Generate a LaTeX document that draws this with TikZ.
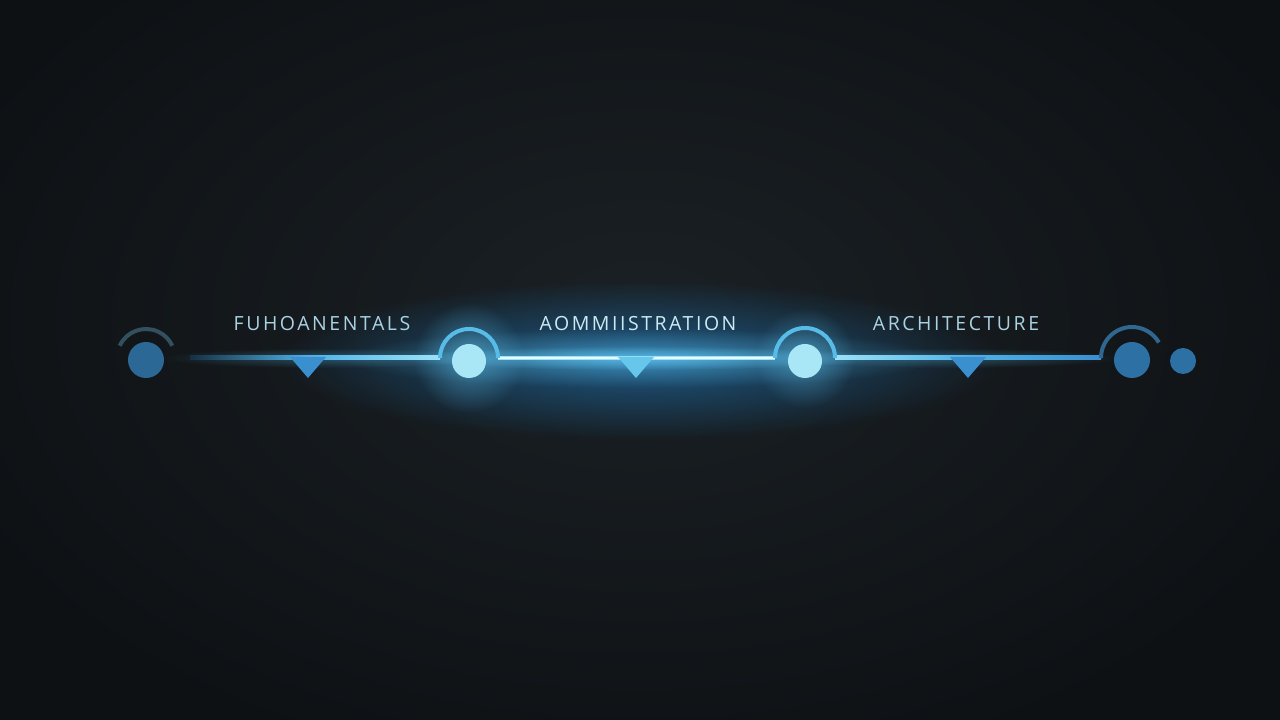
\documentclass[tikz,border=0pt]{standalone}
\usepackage{fontspec}
\setmainfont{Open Sans}
\newfontfamily\labelfont[LetterSpace=13]{Open Sans}
\usetikzlibrary{fadings,calc}
\definecolor{bgdark}{HTML}{0E1114}
\definecolor{bglight}{HTML}{1B2125}
\definecolor{glowblue}{HTML}{1E72B0}
\definecolor{glowcyan}{HTML}{5FC6F2}
\definecolor{linedim}{HTML}{215E8C}
\definecolor{linemid}{HTML}{4FB2E6}
\definecolor{linebright}{HTML}{9BE2F8}
\definecolor{nodedim}{HTML}{2C6896}
\definecolor{nodefour}{HTML}{2D70A4}
\definecolor{nodebright}{HTML}{A9E6F6}
\definecolor{arcdim}{HTML}{33505F}
\definecolor{arcbright}{HTML}{58BCE8}
\definecolor{arcmid}{HTML}{2F6790}
\definecolor{tridim}{HTML}{3A8FCF}
\definecolor{tribright}{HTML}{66C6EC}
\definecolor{labcol}{HTML}{A9D2E2}
\definecolor{labbright}{HTML}{CBEAF3}
\tikzfading[name=softfade, inner color=transparent!0, outer color=transparent!100]
\tikzset{
  dimcircle/.style={circle, fill=nodedim, minimum size=36pt, inner sep=0pt},
  brightcircle/.style={circle, fill=nodebright, minimum size=34pt, inner sep=0pt},
  smalldot/.style={circle, fill=nodefour, minimum size=26pt, inner sep=0pt},
  arcline/.style={line width=4pt},
  lab/.style={font=\labelfont\fontsize{19.5}{22}\selectfont, text=labcol, inner sep=0pt},
}
\begin{document}
\begin{tikzpicture}[x=1pt,y=1pt]
\fill[bgdark] (0,0) rectangle (1280,720);
\useasboundingbox (0,0) rectangle (1280,720);
\fill[bglight, path fading=softfade] (640,400) ellipse [x radius=760, y radius=480];
% glow
\fill[glowblue, opacity=0.7, path fading=softfade] (640,360) ellipse [x radius=360, y radius=80];
\fill[glowcyan, opacity=0.5, path fading=softfade] (640,362) ellipse [x radius=300, y radius=30];
\fill[glowcyan, opacity=0.7, path fading=softfade] (640,362) ellipse [x radius=240, y radius=12];
\fill[glowcyan, opacity=0.5, path fading=softfade] (469,362) circle [radius=55];
\fill[glowcyan, opacity=0.45, path fading=softfade] (805,362) circle [radius=50];
\fill[glowcyan, opacity=0.3, path fading=softfade] (330,362) ellipse [x radius=170, y radius=10];
\fill[glowcyan, opacity=0.3, path fading=softfade] (950,362) ellipse [x radius=170, y radius=10];

% arc end coordinates
\coordinate (s1) at (190,362);
\coordinate (a2w) at (440,362);
\coordinate (a2e) at (498,362);
\coordinate (a3w) at (775,362);
\coordinate (a3e) at (835,362);
\coordinate (a4w) at (1101,362);
\coordinate (t1) at (308,362);
\coordinate (t2) at (636,362);
\coordinate (t3) at (968,362);

% line segments
\shade[left color=linedim!40!bgdark, right color=linemid] ($(s1)+(0,-2)$) rectangle ($(t1)+(0,2)$);
\shade[left color=linemid, right color=linebright] ($(t1)+(0,-2)$) rectangle ($(a2w)+(0,2)$);
\fill[linebright] ($(a2e)+(0,-2.3)$) rectangle ($(a3w)+(0,2.3)$);
\fill[white!80!linebright] ($(a2e)+(0,-0.9)$) rectangle ($(a3w)+(0,0.9)$);
\shade[left color=linebright, right color=linemid] ($(a3e)+(0,-2)$) rectangle ($(t3)+(0,2)$);
\shade[left color=linemid, right color=tridim] ($(t3)+(0,-2)$) rectangle ($(a4w)+(0,2)$);

% triangles
\fill[tridim] ($(t1)+(-18,1)$) -- ($(t1)+(18,1)$) -- ($(t1)+(0,-20)$) -- cycle;
\fill[tribright] ($(t2)+(-18,1)$) -- ($(t2)+(18,1)$) -- ($(t2)+(0,-20)$) -- cycle;
\fill[tridim] ($(t3)+(-18,1)$) -- ($(t3)+(18,1)$) -- ($(t3)+(0,-20)$) -- cycle;

% nodes
\node[dimcircle] (n1) at (146,360) {};
\node[brightcircle] (n2) at (469,359) {};
\node[brightcircle] (n3) at (805,359) {};
\node[dimcircle, fill=nodefour] (n4) at (1132,360) {};
\node[smalldot] (n5) at (1183,359) {};

% arcs
\draw[arcline, arcdim] (146,362) ++(155:29) arc[start angle=155, end angle=25, radius=29];
\draw[arcline, arcbright] (a2w) arc[start angle=180, end angle=0, radius=29];
\draw[arcline, arcbright] (a3w) arc[start angle=180, end angle=0, radius=30];
\draw[arcline, arcmid] (a4w) arc[start angle=180, end angle=30, radius=31];

% labels
\node[lab] (l1) at (322,396) {FUHOANENTALS};
\node[lab, text=labbright] (l2) at (638,396) {AOMMIISTRATION};
\node[lab] (l3) at (956,396) {ARCHITECTURE};
\end{tikzpicture}
\end{document}
